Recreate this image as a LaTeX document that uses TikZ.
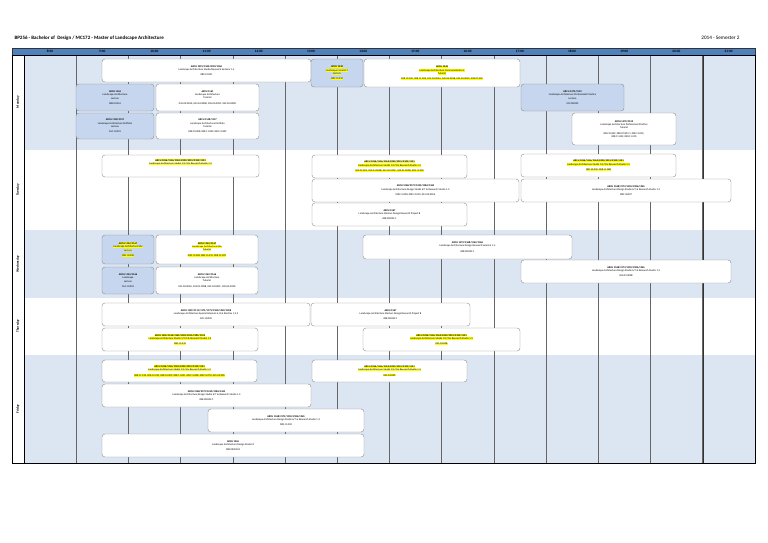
\documentclass[tikz,border=0pt]{standalone}
\usepackage{fontspec}
\setmainfont{Carlito}
\definecolor{rowbg}{RGB}{220,230,242}
\definecolor{lecbg}{RGB}{197,214,238}
\definecolor{hdr}{RGB}{79,129,189}
\definecolor{yel}{RGB}{255,255,0}
\newcommand\hy[1]{{\setlength\fboxsep{0.15pt}\colorbox{yel}{#1}}}
\newcommand\ev[7]{\node[evbox,fill=#5,minimum width={(#3-#1)*1pt},minimum height={(#4-#2)*1pt}] (#6) at ({(#1+#3)/2},{(#2+#4)/2}) {#7};}
\tikzset{evbox/.style={draw=black!45,line width=0.4pt,rounded corners=3pt,inner sep=0pt,align=center,font=\fontsize{2.6}{3.3}\selectfont},
 daylbl/.style={rotate=90,font=\fontsize{3.5}{4}\selectfont\bfseries},
 hlbl/.style={font=\fontsize{3.4}{4}\selectfont\bfseries}}
\begin{document}
\begin{tikzpicture}[x=1pt,y=-1pt]
\useasboundingbox (0,0) rectangle (768,543);
% rows
\fill[rowbg] (12,55) rectangle (755,150);
\fill[rowbg] (12,230) rectangle (755,298);
\fill[rowbg] (12,355) rectangle (755,463);
\fill[white] (12,55) rectangle (24,463);
% header
\node[anchor=west,font=\fontsize{5}{6}\selectfont\bfseries] (title) at (11,38) {BP256 - Bachelor of\ \ Design / MC172 - Master of Landscape Architecture};
\node[anchor=east,font=\fontsize{5.2}{6}\selectfont] (sem) at (743,38) {2014 - Semester 2};
\fill[hdr] (12,48) rectangle (755,55);
\draw[black!80,line width=0.6pt] (12,48) rectangle (755,55);
\foreach \i [count=\k from 0] in {8,9,10,11,12,13,14,15,16,17,18,19,20,21}{
  \node[hlbl] (h\i) at ({50+\k*52.2},51.5) {\i:00};
  \draw[black!60,line width=0.4pt] ({24+\k*52.2},55) -- ({24+\k*52.2},463);
}
\draw[black!80,line width=0.6pt] (703,55) -- (703,463);
\draw[black,line width=0.7pt] (12,55) rectangle (755,463);
\draw[black,line width=0.6pt] (24,55) -- (24,463);
\node[daylbl] (mon) at (18,102) {Monday};
\node[daylbl] (tue) at (18,190) {Tuesday};
\node[daylbl] (wed) at (18,264) {Wednesday};
\node[daylbl] (thu) at (18,326) {Thursday};
\node[daylbl] (fri) at (18,409) {Friday};
% Monday
\ev{102}{59}{311}{82}{white}{m1}{\textbf{ARCH 1095/1360/2003/1366}\\Landscape Architecture Studio/Research Seminar 1-4\\[2pt]080.10.001}
\ev{311}{59}{363}{87}{lecbg}{m2}{\hy{\textbf{ARCH 1048}}\\\hy{Landscape Content 2}\\\hy{Lecture}\\[2pt]\hy{008.11.010}}
\ev{364}{59}{520}{87}{white}{m3}{\hy{\textbf{ARCH 1048}}\\\hy{Landscape Architecture Communications 2}\\\hy{Tutorial}\\[2pt]\hy{008.10.010, 008.11.009, 045.04.005A, 045.04.005B, 045.04.005C, 008.07.009}}
\ev{76}{84}{154}{111}{lecbg}{m4}{\textbf{ARCH 1163}\\Landscape Architecture\\Lecture\\[2pt]008.03.061}
\ev{156}{84}{259}{111}{white}{m5}{\textbf{ARCH 1161}\\Landscape Architecture\\Tutorial\\[2pt]045.03.005A, 045.04.005B, 045.04.005C, 045.04.005D}
\ev{76}{113}{154}{139}{lecbg}{m6}{\textbf{ARCH 1148/1357}\\Landscape Architecture Portfolio\\Lecture\\[2pt]014.13.001}
\ev{156}{113}{259}{139}{white}{m7}{\textbf{ARCH 1148/1357}\\Landscape Architecture Portfolio\\Tutorial\\[2pt]008.10.008, 008.11.009, 008.11.009}
\ev{521}{84}{624}{111}{lecbg}{m8}{\textbf{ARCH 1470/1559}\\Landscape Architecture Professional Practice\\Lecture\\[2pt]013.08.002}
\ev{572}{113}{676}{145}{white}{m9}{\textbf{ARCH 1470/1559}\\Landscape Architecture Professional Practice\\Tutorial\\[2pt]008.10.009, 080.07.002.1, 008.11.001,\\008.11.002, 008.11.010}
% Tuesday
\ev{102}{155}{259}{177}{white}{t1}{\hy{\textbf{ARCH 1036/1346/1363/2003/2035/2185/1333}}\\\hy{Landscape Architecture Studio 1/2/3 \& Research Studio 1-3}\\[5pt]\ }
\ev{312}{155}{467}{178}{white}{t2}{\hy{\textbf{ARCH 1036/1346/1363/2003/2035/2185/1333}}\\\hy{Landscape Architecture Studio 1/2/3 \& Research Studio 1-3}\\[2pt]\hy{045.03.005, 045.04.005B, 045.04.005C, 045.04.005D, 008.11.002}}
\ev{521}{154}{676}{177}{white}{t3}{\hy{\textbf{ARCH 1036/1346/1363/2003/2035/2185/1333}}\\\hy{Landscape Architecture Studio 1/2/3 \& Research Studio 1-3}\\[2pt]\hy{080.10.005, 008.11.008}}
\ev{312}{179}{519}{202}{white}{t4}{\textbf{ARCH 1368/2172/1055/2186/1365}\\Landscape Architecture Design Studio 6/7 \& Research Studio 1-3\\[2pt]008.11.008, 008.11.001, 045.03.005A}
\ev{521}{179}{731}{202}{white}{t5}{\textbf{ARCH 1368/2172/1055/2186/1365}\\Landscape Architecture Design Studio 6/7 \& Research Studio 1-3\\[2pt]008.10.007}
\ev{312}{203}{467}{226}{white}{t6}{\textbf{ARCH 1367}\\Landscape Architecture Masters Design Research Project B\\[2pt]008.08.002.1}
% Wednesday
\ev{102}{235}{154}{264}{lecbg}{w1}{\hy{\textbf{ARCH 1163/1167}}\\\hy{Landscape Architecture Site}\\\hy{Lecture}\\[2pt]\hy{008.10.008}}
\ev{156}{235}{258}{264}{white}{w2}{\hy{\textbf{ARCH 1163/1167}}\\\hy{Landscape Architecture Site}\\\hy{Tutorial}\\[2pt]\hy{008.11.008, 008.11.010, 008.12.070}}
\ev{102}{267}{154}{294}{lecbg}{w3}{\textbf{ARCH 1163/1166}\\Landscape\\Lecture\\[2pt]014.13.001}
\ev{156}{267}{258}{294}{white}{w4}{\textbf{ARCH 1163/1166}\\Landscape Architecture\\Tutorial\\[2pt]045.03.005A, 045.04.005B, 045.04.005C, 045.04.005D}
\ev{363}{235}{572}{259}{white}{w5}{\textbf{ARCH 1470/1368/1362/1366}\\Landscape Architecture Design Research Seminar 1-4\\[2pt]008.08.002.1}
\ev{521}{260}{731}{283}{white}{w6}{\textbf{ARCH 1368/2172/1055/2186/1365}\\Landscape Architecture Design Studio 6/7 \& Research Studio 1-3\\[2pt]045.03.005B}
% Thursday
\ev{102}{303}{310}{326}{white}{h1}{\textbf{ARCH 1109/1111/1175/1179/1180/1302/1308}\\Landscape Architecture Special Interests A, B \& Elective 1,2,3\\[2pt]045.10.005}
\ev{311}{303}{470}{326}{white}{h2}{\textbf{ARCH 1367}\\Landscape Architecture Masters Design Research Project B\\[2pt]008.08.002.1}
\ev{102}{328}{258}{351}{white}{h3}{\hy{\textbf{ARCH 1036/1346/1363/2003/2035/2185/1333}}\\\hy{Landscape Architecture Studio 1/2/3 \& Research Studio 1-3}\\[2pt]\hy{008.11.010}}
\ev{363}{328}{520}{351}{white}{h4}{\hy{\textbf{ARCH 1036/1346/1363/2003/2035/2185/1333}}\\\hy{Landscape Architecture Studio 1/2/3 \& Research Studio 1-3}\\[2pt]\hy{045.03.008}}
% Friday
\ev{102}{360}{257}{382}{white}{f1}{\hy{\textbf{ARCH 1036/1346/1363/2003/2035/2185/1333}}\\\hy{Landscape Architecture Studio 1/2/3 \& Research Studio 1-3}\\[2pt]\hy{008.11.010, 008.12.010, 008.10.009, 008.11.001, 008.11.008, 008.12.070, 045.03.005}}
\ev{312}{360}{467}{382}{white}{f2}{\hy{\textbf{ARCH 1036/1346/1363/2003/2035/2185/1333}}\\\hy{Landscape Architecture Studio 1/2/3 \& Research Studio 1-3}\\[2pt]\hy{045.03.005}}
\ev{102}{384}{311}{407}{white}{f3}{\textbf{ARCH 1368/2172/1055/2186/1365}\\Landscape Architecture Design Studio 6/7 \& Research Studio 1-3\\[2pt]008.08.002.1}
\ev{208}{409}{364}{432}{white}{f4}{\textbf{ARCH 1368/2172/1055/2186/1365}\\Landscape Architecture Design Studio 6/7 \& Research Studio 1-3\\[2pt]008.11.002}
\ev{102}{434}{364}{457}{white}{f5}{\textbf{ARCH 1365}\\Landscape Architecture Design Studio 8\\[2pt]008.08.002.8}
\end{tikzpicture}
\end{document}
